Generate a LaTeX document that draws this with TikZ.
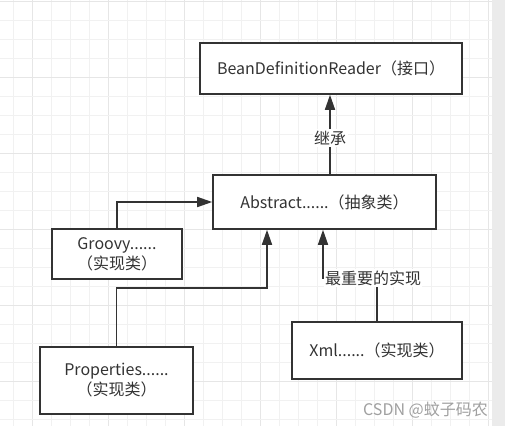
\documentclass[tikz,border=0pt]{standalone}
\usepackage{fontspec}
\setmainfont{Noto Sans CJK SC}
\usetikzlibrary{arrows.meta,calc}
\definecolor{gridthin}{HTML}{F1F1F1}
\definecolor{gridthick}{HTML}{E6E6E6}
\definecolor{band}{HTML}{EBEBEB}
\definecolor{ink}{HTML}{333333}
\definecolor{wm}{HTML}{A0A0A0}
\tikzset{
  box/.style={draw=ink, line width=1.6pt, fill=white, text=ink, inner sep=0pt, align=center, font=\fontsize{16}{20}\selectfont},
  conn/.style={draw=ink, line width=1.6pt, -{Triangle[length=15pt,width=10pt]}},
  lbl/.style={fill=white, text=ink, inner sep=1.5pt, font=\fontsize{16}{18}\selectfont}
}
\begin{document}
\begin{tikzpicture}[x=1pt,y=-1pt]
\useasboundingbox (0,0) rectangle (505,426);
\fill[white] (0,0) rectangle (505,426);
% grid
\foreach \k in {0,...,25} {
  \pgfmathtruncatemacro{\m}{mod(\k,4)}
  \ifnum\m=1 \draw[gridthick, line width=1pt] ({13+19*\k},0) -- ({13+19*\k},426);
  \else \draw[gridthin, line width=0.8pt] ({13+19*\k},0) -- ({13+19*\k},426); \fi
}
\foreach \k in {0,...,22} {
  \pgfmathtruncatemacro{\m}{mod(\k,4)}
  \ifnum\m=0 \draw[gridthick, line width=1pt] (0,{1+19*\k}) -- (492,{1+19*\k});
  \else \draw[gridthin, line width=0.8pt] (0,{1+19*\k}) -- (492,{1+19*\k}); \fi
}
\fill[band] (492,0) rectangle (505,426);

% boxes
\node[box, minimum width=262pt, minimum height=51pt] (bdr) at (331,68.5) {BeanDefinitionReader（接口）};
\node[box, minimum width=223pt, minimum height=54pt] (abs) at (324.5,202) {Abstract......（抽象类）};
\node[box, minimum width=130pt, minimum height=50pt] (groovy) at (117,254) {Groovy......\\（实现类）};
\node[box, minimum width=153pt, minimum height=67pt] (prop) at (116.5,380.5) {Properties......\\（实现类）};
\node[box, minimum width=170pt, minimum height=57pt] (xml) at (377,350.5) {Xml......（实现类）};

% connectors
\coordinate (absTop) at (330,175);
\draw[conn] (absTop) -- (absTop |- bdr.south);
\node[lbl] (l1) at (330,138) {继承};

\draw[conn] (groovy.north) |- (abs.west);

\coordinate (pbend) at (267,288);
\draw[conn] (prop.north) |- (pbend) -- (pbend |- abs.south);

\coordinate (xbend) at (323,278);
\draw[conn] (xml.north) |- (xbend) -- (xbend |- abs.south);
\node[lbl, anchor=west, inner xsep=1pt] (l2) at (324,278) {最重要的实现};

% watermark
\node[text=wm, anchor=east, inner sep=0pt, font=\fontsize{16}{18}\selectfont] (wmk) at (488,410) {CSDN @蚊子码农};
\end{tikzpicture}
\end{document}
